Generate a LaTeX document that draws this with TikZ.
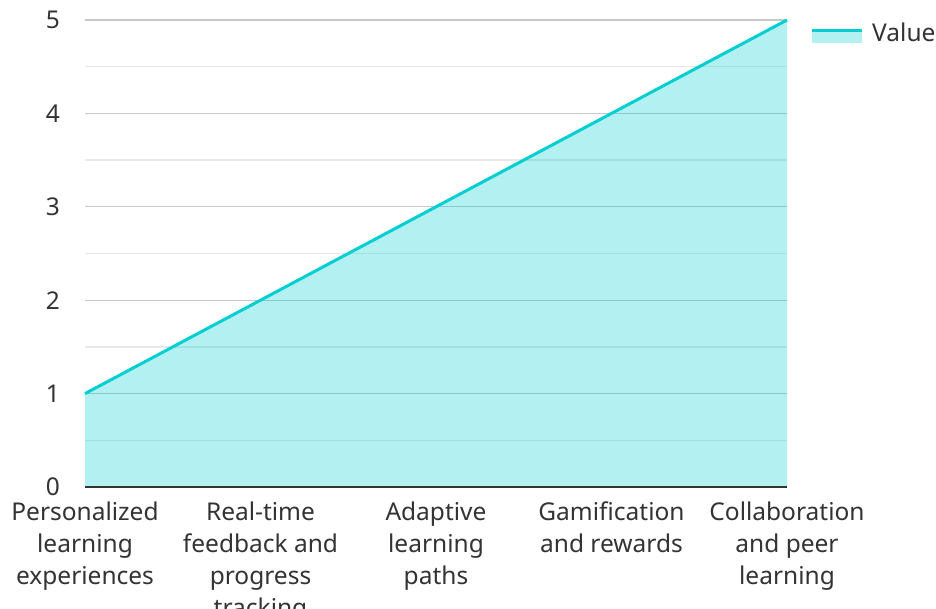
\documentclass[tikz,border=0pt]{standalone}
\usepackage{fontspec}
\setmainfont{Noto Sans}
\definecolor{serie}{HTML}{00CED1}
\definecolor{txt}{HTML}{333333}
\definecolor{gmaj}{HTML}{C8C8C8}
\definecolor{gmin}{HTML}{E8E8E8}
\tikzset{
  lbl/.style={font=\fontsize{24.5}{32}\selectfont, text=txt, inner sep=0pt},
  xlbl/.style={lbl, align=center, anchor=north},
  ylbl/.style={lbl, anchor=east},
  majgrid/.style={draw=gmaj, line width=1.2pt},
  mingrid/.style={draw=gmin, line width=1.2pt},
  serieline/.style={draw=serie, line width=3pt},
  seriefill/.style={fill=serie, fill opacity=0.3},
}
\begin{document}
\begin{tikzpicture}[x=1pt,y=-1pt]
\useasboundingbox (0,0) rectangle (936,609);
\clip (0,0) rectangle (936,609);
% grid
\foreach \v in {0.5,1.5,2.5,3.5,4.5} {
  \draw[mingrid] (85,{487-93.4*\v}) -- (787,{487-93.4*\v});
}
\foreach \v in {1,2,3,4,5} {
  \draw[majgrid] (85,{487-93.4*\v}) -- (787,{487-93.4*\v});
}
% data
\coordinate (p1) at (85,393.6);
\coordinate (p5) at (787,20);
\coordinate (b1) at (85,487);
\coordinate (b5) at (787,487);
\fill[seriefill] (b1) -- (p1) -- (p5) -- (b5) -- cycle;
\draw[serieline] (p1) -- (p5);
% axis
\draw[draw=txt, line width=2pt] (b1) -- (b5);
% y labels
\foreach \v in {0,1,2,3,4,5} {
  \node[ylbl] (y\v) at (60,{487-93.4*\v}) {\v};
}
% x labels
\node[xlbl] (x1) at (85,502) {Personalized\\learning\\experiences};
\node[xlbl] (x2) at (260.5,502) {Real-time\\feedback and\\progress\\tracking};
\node[xlbl] (x3) at (436,502) {Adaptive\\learning\\paths};
\node[xlbl] (x4) at (611.5,502) {Gamification\\and rewards};
\node[xlbl] (x5) at (787,502) {Collaboration\\and peer\\learning};
% legend
\coordinate (l1) at (812,31);
\coordinate (l2) at (862,31);
\fill[seriefill] (812,31) rectangle (862,43);
\draw[serieline] (l1) -- (l2);
\node[lbl, anchor=west] (leg) at (872,32) {Value};
\end{tikzpicture}
\end{document}
